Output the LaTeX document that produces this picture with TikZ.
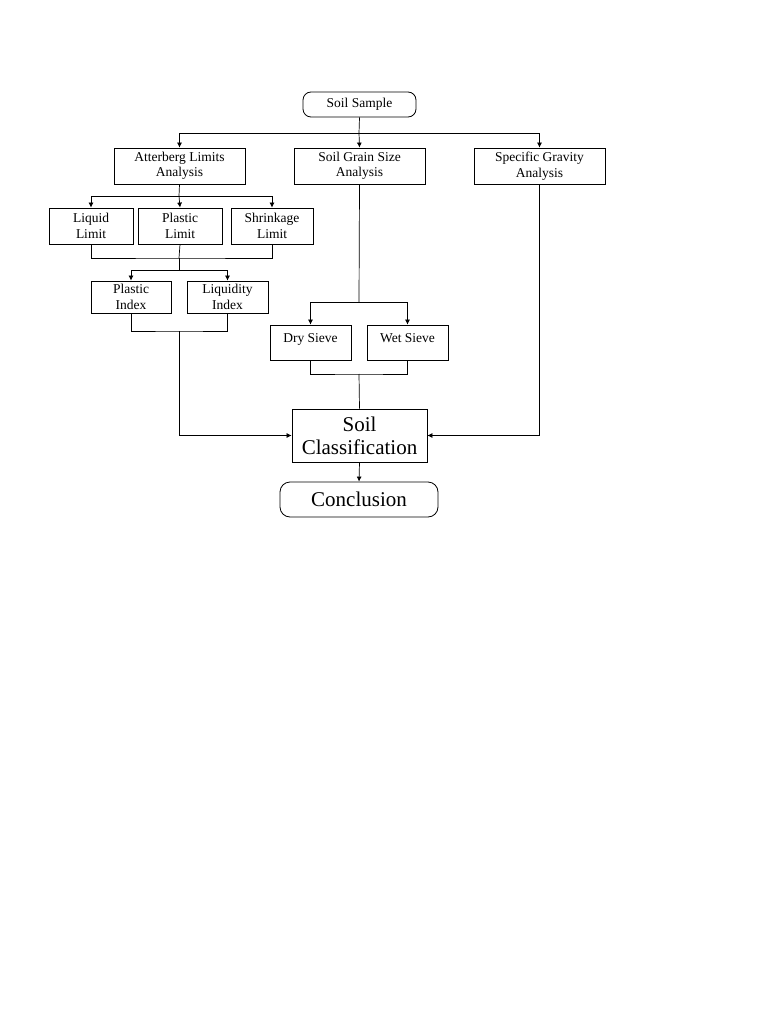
\documentclass[tikz,border=0pt]{standalone}
\usepackage{fontspec}
\setmainfont{Liberation Serif}
\usetikzlibrary{arrows.meta}
\begin{document}
\begin{tikzpicture}[x=1pt,y=-1pt,
  bx/.style={draw,line width=0.8pt,inner sep=0pt,align=center,font=\fontsize{13.5}{15.5}\selectfont},
  rbx/.style={bx,rounded corners=8pt},
  ln/.style={line width=0.7pt},
  ar/.style={ln,-{Latex[length=5pt,width=5pt]}}]
\useasboundingbox (0,0) rectangle (768,1024);
\newcommand\bxx[6]{\node[#1,minimum width=#4-#3,minimum height=#6-#5] (#2) at ({(#3+#4)/2},{(#5+#6)/2})}
\bxx{rbx}{ss}{303}{416}{92}{117} {\raisebox{4pt}{Soil Sample}};
\bxx{bx}{at}{114}{245}{148}{184} {Atterberg Limits\\Analysis};
\bxx{bx}{sg}{294}{425}{148}{184} {Soil Grain Size\\Analysis};
\bxx{bx}{sp}{474}{605}{148}{184} {Specific Gravity\\Analysis};
\bxx{bx}{ll}{49}{133}{208}{244} {Liquid\\Limit};
\bxx{bx}{pl}{138}{222}{208}{244} {Plastic\\Limit};
\bxx{bx}{sl}{231}{313}{208}{244} {Shrinkage\\Limit};
\bxx{bx}{pi}{91}{171}{281}{313} {Plastic\\Index};
\bxx{bx}{li}{187}{268}{281}{313} {Liquidity\\Index};
\bxx{bx}{ds}{270}{351}{325}{360} {\raisebox{8pt}{Dry Sieve}};
\bxx{bx}{ws}{367}{448}{325}{360} {\raisebox{8pt}{Wet Sieve}};
\node[bx,minimum width=135,minimum height=53,font=\fontsize{21}{23}\selectfont] (sc) at (359.5,435.5) {Soil\\Classification};
\node[rbx,minimum width=158,minimum height=35,rounded corners=10pt,font=\fontsize{21}{23}\selectfont] (cn) at (359,499.5) {Conclusion};
% top
\coordinate (t1) at (359,133);
\draw[ln] (ss.south) -- (t1);
\draw[ar] (t1) -| (at.north);
\draw[ar] (t1) -- (sg.north);
\draw[ar] (t1) -| (sp.north);
% atterberg
\coordinate (a1) at (179,196);
\draw[ln] (at.south) -- (a1);
\draw[ar] (a1) -| (ll.north);
\draw[ar] (a1) -- (pl.north);
\draw[ar] (a1) -| (sl.north);
\coordinate (a2) at (179,258);
\draw[ln] (ll.south) |- (a2) -| (sl.south);
\draw[ln] (pl.south) -- (a2);
\coordinate (a3) at (179,270);
\draw[ln] (a2) -- (a3);
\draw[ar] (a3) -| (pi.north);
\draw[ar] (a3) -| (li.north);
\coordinate (a4) at (179,331);
\draw[ln] (pi.south) |- (a4) -| (li.south);
\draw[ar] (a4) |- (sc.west);
% grain
\coordinate (g1) at (359,302);
\draw[ln] (sg.south) -- (g1);
\draw[ar] (g1) -| (ds.north);
\draw[ar] (g1) -| (ws.north);
\coordinate (g2) at (359,374);
\draw[ln] (ds.south) |- (g2) -| (ws.south);
\draw[ln] (g2) -- (sc.north);
% specific
\draw[ar] (sp.south) |- (sc.east);
\draw[ar] (sc.south) -- (cn.north);
\end{tikzpicture}
\end{document}
